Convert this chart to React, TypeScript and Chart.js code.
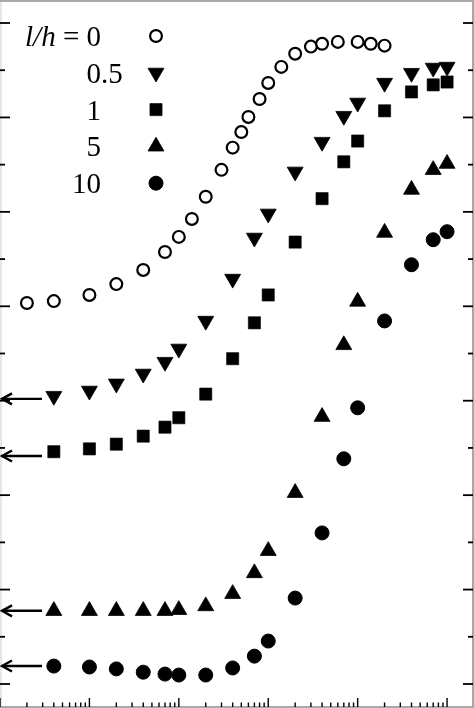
import { useEffect, useRef } from "react";
import { Chart, registerables, type Plugin } from "chart.js";
import { drawPoint } from "chart.js/helpers";

Chart.register(...registerables);

// x grid of the measurements (log axis, arbitrary units)
const X_OPEN = [2, 4, 10, 20, 40, 70, 100, 140, 200, 300, 400, 500, 600, 800, 1000, 1400, 2000, 3000, 4000, 6000, 10000, 14000, 20000];
const X_FILLED = [4, 10, 20, 40, 70, 100, 200, 400, 700, 1000, 2000, 4000, 7000, 10000, 20000, 40000, 70000, 100000];

const LH_LABELS = ["0", "0.5", "1", "5", "10"];

const Y_LH0 = [8.07, 8.11, 8.24, 8.47, 8.77, 9.15, 9.47, 9.85, 10.32, 10.89, 11.36, 11.69, 12.01, 12.39, 12.73, 13.07, 13.35, 13.5, 13.56, 13.6, 13.6, 13.56, 13.52];
const Y_LH05 = [6.1, 6.21, 6.36, 6.57, 6.82, 7.1, 7.69, 8.58, 9.45, 9.96, 10.85, 11.48, 12.03, 12.31, 12.73, 12.94, 13.05, 13.07];
const Y_LH1 = [4.92, 4.98, 5.08, 5.25, 5.44, 5.64, 6.14, 6.89, 7.65, 8.24, 9.36, 10.28, 11.06, 11.5, 12.14, 12.54, 12.69, 12.75];
const Y_LH5 = [1.55, 1.55, 1.55, 1.55, 1.55, 1.57, 1.65, 1.91, 2.35, 2.82, 4.05, 5.66, 7.18, 8.1, 9.56, 10.47, 10.89, 11.02];
const Y_LH10 = [0.38, 0.36, 0.32, 0.25, 0.21, 0.19, 0.19, 0.34, 0.59, 0.91, 1.82, 3.2, 4.77, 5.85, 7.69, 8.88, 9.41, 9.58];

// limiting values marked by the arrows on the left axis (none for l/h = 0)
const ASYMPTOTES: (number | null)[] = [null, 6.04, 4.83, 1.55, 0.38];

const Y_TICKS = [0, 1, 2, 3, 4, 5, 6, 7, 8, 9, 10, 11, 12, 13, 14];
const Y_MIN = -0.487;
const Y_MAX = 14.466;
const X_MIN = 1;
const X_MAX = 195000;

const FONT = "'Liberation Serif', 'Times New Roman', serif";

const decorPlugin: Plugin<"scatter"> = {
  id: "decor",
  afterDraw(chart) {
    const { ctx, chartArea: a, scales } = chart;
    const xs = scales.x;
    const ys = scales.y;
    const line = (x1: number, y1: number, x2: number, y2: number) => {
      ctx.beginPath();
      ctx.moveTo(x1, y1);
      ctx.lineTo(x2, y2);
      ctx.stroke();
    };
    ctx.save();

    // frame
    ctx.lineWidth = 2;
    ctx.strokeStyle = "#e6e6e6";
    line(a.left + 1, a.top, a.left + 1, a.bottom);
    ctx.strokeStyle = "#a8a8a8";
    ctx.beginPath();
    ctx.moveTo(a.left, a.top);
    ctx.lineTo(a.right, a.top);
    ctx.lineTo(a.right, a.bottom);
    ctx.lineTo(a.left, a.bottom);
    ctx.stroke();

    // inward ticks
    ctx.strokeStyle = "#000";
    ctx.lineWidth = 1.8;
    for (const v of Y_TICKS) {
      const y = ys.getPixelForValue(v);
      const len = v % 2 === 0 ? 10 : 5;
      line(a.left, y, a.left + len, y);
      line(a.right - len, y, a.right, y);
    }
    ctx.lineWidth = 1.4;
    for (let e = 0; e <= 5; e++) {
      for (let m = 1; m <= 9; m++) {
        const v = m * 10 ** e;
        if (v > X_MAX) break;
        const x = xs.getPixelForValue(v);
        line(x, a.bottom, x, a.bottom - (m === 1 ? 9 : 4.5));
      }
    }

    // arrows to the limiting values
    ctx.lineWidth = 2.4;
    ASYMPTOTES.forEach((v) => {
      if (v == null) return;
      const y = ys.getPixelForValue(v);
      line(a.left + 42, y, a.left + 2, y);
      ctx.beginPath();
      ctx.moveTo(a.left + 12, y - 5.5);
      ctx.lineTo(a.left + 2, y);
      ctx.lineTo(a.left + 12, y + 5.5);
      ctx.stroke();
    });

    // legend
    ctx.textBaseline = "alphabetic";
    ctx.textAlign = "left";
    chart.data.datasets.forEach((ds: any, i) => {
      const base = 46 + i * 36.8;
      const label = LH_LABELS[i];
      ctx.font = `29px ${FONT}`;
      ctx.fillStyle = "#000";
      const intW = ctx.measureText(label.split(".")[0]).width;
      const x0 = 101 - intW;
      ctx.fillText(label, x0, base);
      if (i === 0) {
        const eqW = ctx.measureText(" = ").width;
        ctx.fillText(" = ", x0 - eqW, base);
        ctx.font = `italic 29px ${FONT}`;
        const lhW = ctx.measureText("l/h").width;
        ctx.fillText("l/h", x0 - eqW - lhW, base);
      }
      ctx.fillStyle = ds.backgroundColor;
      ctx.strokeStyle = ds.borderColor;
      ctx.lineWidth = ds.borderWidth;
      drawPoint(ctx, {
        pointStyle: ds.pointStyle,
        rotation: ds.rotation ?? 0,
        radius: ds.pointRadius,
        borderWidth: ds.borderWidth,
      }, 156, base - 10);
    });
    ctx.restore();
  },
};

const toPoints = (xs: number[], ys: number[]) => xs.map((x, i) => ({ x, y: ys[i] }));

export default function App() {
  const canvasRef = useRef<HTMLCanvasElement>(null);

  useEffect(() => {
    if (!canvasRef.current) return;
    const chart = new Chart(canvasRef.current, {
      type: "scatter",
      data: {
        datasets: [
          { label: LH_LABELS[0], data: toPoints(X_OPEN, Y_LH0), pointStyle: "circle", pointRadius: 5.9, borderWidth: 2.2, borderColor: "#000", backgroundColor: "#fff" },
          { label: LH_LABELS[1], data: toPoints(X_FILLED, Y_LH05), pointStyle: "triangle", rotation: 180, pointRadius: 9.2, borderWidth: 0.8, borderColor: "#000", backgroundColor: "#000" },
          { label: LH_LABELS[2], data: toPoints(X_FILLED, Y_LH1), pointStyle: "rect", pointRadius: 8.6, borderWidth: 0.6, borderColor: "#000", backgroundColor: "#000" },
          { label: LH_LABELS[3], data: toPoints(X_FILLED, Y_LH5), pointStyle: "triangle", pointRadius: 9.2, borderWidth: 0.8, borderColor: "#000", backgroundColor: "#000" },
          { label: LH_LABELS[4], data: toPoints(X_FILLED, Y_LH10), pointStyle: "circle", pointRadius: 7, borderWidth: 1, borderColor: "#000", backgroundColor: "#000" },
        ] as any,
      },
      options: {
        animation: false,
        responsive: false,
        events: [],
        layout: { autoPadding: false, padding: { left: 0, top: 1, right: 1, bottom: 1 } },
        plugins: { legend: { display: false }, tooltip: { enabled: false } },
        scales: {
          x: { type: "logarithmic", min: X_MIN, max: X_MAX, display: false },
          y: { type: "linear", min: Y_MIN, max: Y_MAX, display: false },
        },
      },
      plugins: [decorPlugin],
    });
    return () => chart.destroy();
  }, []);

  return (
    <div style={{ position: "fixed", left: 0, top: 0, width: 474, height: 708, background: "#fff" }}>
      <canvas ref={canvasRef} width={474} height={708} style={{ display: "block" }} />
    </div>
  );
}
